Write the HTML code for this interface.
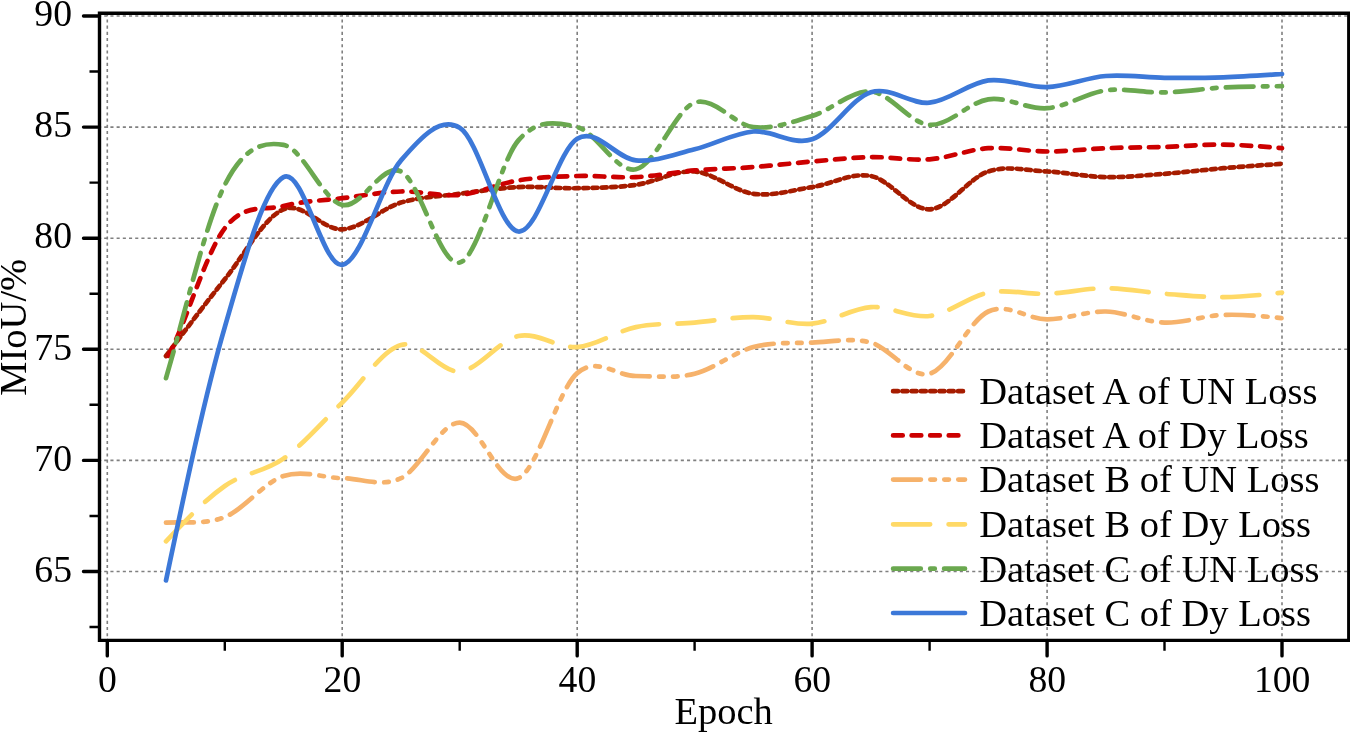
<!DOCTYPE html><html><head><meta charset="utf-8"><title>MIoU</title><style>html,body{margin:0;padding:0;background:#fff;overflow:hidden}svg{display:block}text{font-family:"Liberation Serif",serif;fill:#000}</style></head><body>
<svg width="1350" height="732" viewBox="0 0 1350 732">
<rect width="1350" height="732" fill="#fff"/>
<path d="M107.3 13.2 V640.4M342.2 13.2 V640.4M577.2 13.2 V640.4M812.1 13.2 V640.4M1047.1 13.2 V640.4M1282.0 13.2 V640.4M98.0 571.5 H1348.8M98.0 460.4 H1348.8M98.0 349.3 H1348.8M98.0 238.2 H1348.8M98.0 127.1 H1348.8M98.0 16.0 H1348.8" stroke="#808080" stroke-width="1.6" stroke-dasharray="3.1 3.1" fill="none"/>
<g fill="none" stroke-linejoin="round">
<path d="M166.0 356.0C185.6 329.9 205.2 303.7 224.8 279.3C244.3 254.9 263.9 217.6 283.5 209.3C303.1 201.0 322.7 230.4 342.2 229.3C361.8 228.2 381.4 208.6 401.0 202.6C420.6 196.7 440.1 196.4 459.7 193.8C479.3 191.2 498.9 188.0 518.4 187.1C538.0 186.2 557.6 188.6 577.2 188.2C596.8 187.8 616.3 187.6 635.9 184.9C655.5 182.1 675.1 170.1 694.6 171.5C714.2 173.0 733.8 191.2 753.4 193.8C773.0 196.4 792.5 190.1 812.1 187.1C831.7 184.1 851.3 172.3 870.9 176.0C890.4 179.7 910.0 210.1 929.6 209.3C949.2 208.6 968.7 177.8 988.3 171.5C1007.9 165.2 1027.5 170.6 1047.1 171.5C1066.6 172.5 1086.2 176.7 1105.8 177.1C1125.4 177.5 1145.0 175.2 1164.5 173.8C1184.1 172.3 1203.7 169.9 1223.3 168.2C1242.8 166.5 1262.4 165.2 1282.0 163.8" stroke="#A61C00" stroke-width="4.7" stroke-linecap="round" stroke-dasharray="4.9 4.38" stroke-dashoffset="0.0"/>
<path d="M166.0 360.4C185.6 325.2 205.2 253.9 224.8 228.2C244.3 202.5 263.9 211.0 283.5 206.0C303.1 201.0 322.7 200.6 342.2 198.2C361.8 195.8 381.4 192.1 401.0 191.5C420.6 191.0 440.1 196.7 459.7 194.9C479.3 193.0 498.9 183.6 518.4 180.4C538.0 177.3 557.6 176.5 577.2 176.0C596.8 175.4 616.3 178.0 635.9 177.1C655.5 176.2 675.1 172.1 694.6 170.4C714.2 168.8 733.8 168.6 753.4 167.1C773.0 165.6 792.5 163.2 812.1 161.5C831.7 159.9 851.3 157.5 870.9 157.1C890.4 156.7 910.0 160.8 929.6 159.3C949.2 157.8 968.7 149.5 988.3 148.2C1007.9 146.9 1027.5 151.5 1047.1 151.5C1066.6 151.5 1086.2 149.0 1105.8 148.2C1125.4 147.4 1145.0 147.5 1164.5 146.9C1184.1 146.3 1203.7 144.4 1223.3 144.7C1242.8 144.9 1262.4 146.5 1282.0 148.2" stroke="#CC0000" stroke-width="4.7" stroke-linecap="round" stroke-dasharray="9.6 8.95" stroke-dashoffset="-5.3"/>
<path d="M166.0 522.6C185.6 521.5 205.2 524.8 224.8 517.1C244.3 509.3 263.9 482.4 283.5 476.0C303.1 469.5 322.7 477.8 342.2 478.2C361.8 478.5 381.4 487.4 401.0 478.2C420.6 468.9 440.1 422.6 459.7 422.6C479.3 422.6 498.9 486.4 518.4 478.2C538.0 469.9 557.6 390.1 577.2 373.1C596.8 356.0 616.3 375.9 635.9 376.0C655.5 376.1 675.1 378.6 694.6 373.7C714.2 368.9 733.8 352.3 753.4 347.1C773.0 341.9 792.5 343.4 812.1 342.6C831.7 341.9 851.3 337.4 870.9 342.6C890.4 347.8 910.0 378.9 929.6 373.7C949.2 368.6 968.7 320.6 988.3 311.5C1007.9 302.5 1027.5 319.3 1047.1 319.3C1066.6 319.3 1086.2 311.0 1105.8 311.5C1125.4 312.1 1145.0 322.1 1164.5 322.6C1184.1 323.2 1203.7 315.6 1223.3 314.9C1242.8 314.1 1262.4 316.2 1282.0 318.2" stroke="#F6B26B" stroke-width="4.7" stroke-linecap="round" stroke-dasharray="27.8 9.45 4.6 9.35 4.6 9.4" stroke-dashoffset="0.0"/>
<path d="M166.0 541.3C185.6 520.5 205.2 499.7 224.8 486.0C244.3 472.2 263.9 472.5 283.5 458.6C303.1 444.7 322.7 421.6 342.2 402.6C361.8 383.7 381.4 350.0 401.0 344.9C420.6 339.7 440.1 373.0 459.7 371.5C479.3 370.0 498.9 340.0 518.4 336.0C538.0 331.9 557.6 348.6 577.2 347.1C596.8 345.6 616.3 331.2 635.9 327.1C655.5 323.0 675.1 324.3 694.6 322.6C714.2 321.0 733.8 316.9 753.4 317.1C773.0 317.3 792.5 325.4 812.1 323.7C831.7 322.1 851.3 308.4 870.9 307.1C890.4 305.8 910.0 318.4 929.6 316.0C949.2 313.6 968.7 296.3 988.3 292.6C1007.9 288.9 1027.5 294.5 1047.1 293.8C1066.6 293.0 1086.2 288.2 1105.8 288.2C1125.4 288.2 1145.0 292.3 1164.5 293.8C1184.1 295.2 1203.7 297.3 1223.3 297.1C1242.8 296.9 1262.4 294.8 1282.0 292.6" stroke="#FFD966" stroke-width="4.7" stroke-linecap="round" stroke-dasharray="37.05 18.43" stroke-dashoffset="0.0"/>
<path d="M166.0 378.2C185.6 311.5 205.2 223.8 224.8 184.9C244.3 146.0 263.9 141.5 283.5 144.9C303.1 148.2 322.7 200.4 342.2 204.9C361.8 209.3 381.4 161.9 401.0 171.5C420.6 181.2 440.1 267.8 459.7 262.6C479.3 257.5 498.9 163.0 518.4 140.4C538.0 117.8 557.6 122.3 577.2 127.1C596.8 131.9 616.3 173.4 635.9 169.3C655.5 165.2 675.1 109.7 694.6 102.7C714.2 95.6 733.8 124.9 753.4 127.1C773.0 129.3 792.5 121.9 812.1 116.0C831.7 110.1 851.3 90.1 870.9 91.5C890.4 93.0 910.0 123.6 929.6 124.9C949.2 126.2 968.7 102.1 988.3 99.3C1007.9 96.5 1027.5 109.7 1047.1 108.2C1066.6 106.7 1086.2 93.1 1105.8 90.4C1125.4 87.8 1145.0 92.9 1164.5 92.4C1184.1 92.0 1203.7 88.6 1223.3 87.5C1242.8 86.5 1262.4 86.4 1282.0 86.2" stroke="#6AA84F" stroke-width="4.7" stroke-linecap="round" stroke-dasharray="27.7 9.4 4.6 9.3" stroke-dashoffset="0.0"/>
<path d="M166.0 580.4C185.6 487.3 205.2 394.3 224.8 327.1C244.3 259.9 263.9 187.5 283.5 177.1C303.1 166.7 322.7 267.6 342.2 264.9C361.8 262.1 381.4 183.3 401.0 160.4C420.6 137.6 440.1 115.9 459.7 127.8C479.3 139.6 498.9 229.7 518.4 231.5C538.0 233.3 557.6 150.5 577.2 138.7C596.8 126.8 616.3 158.7 635.9 160.4C655.5 162.2 675.1 154.1 694.6 149.3C714.2 144.5 733.8 133.2 753.4 131.5C773.0 129.9 792.5 145.9 812.1 139.3C831.7 132.8 851.3 98.3 870.9 92.2C890.4 86.1 910.0 104.6 929.6 102.7C949.2 100.7 968.7 83.0 988.3 80.4C1007.9 77.8 1027.5 87.8 1047.1 87.1C1066.6 86.4 1086.2 77.5 1105.8 76.0C1125.4 74.4 1145.0 77.5 1164.5 77.8C1184.1 78.0 1203.7 78.0 1223.3 77.3C1242.8 76.7 1262.4 75.3 1282.0 74.0" stroke="#3C78D8" stroke-width="4.7" stroke-linecap="round"/>
</g>
<path d="M99.5 13.2 H1348.8 V640.4 H99.5 Z" fill="none" stroke="#000" stroke-width="3.4" stroke-linejoin="miter"/>
<path d="M107.3 640.4 V655.9M342.2 640.4 V655.9M577.2 640.4 V655.9M812.1 640.4 V655.9M1047.1 640.4 V655.9M1282.0 640.4 V655.9M99.5 571.5 H83.5M99.5 460.4 H83.5M99.5 349.3 H83.5M99.5 238.2 H83.5M99.5 127.1 H83.5M99.5 16.0 H83.5" stroke="#000" stroke-width="3.4" stroke-linecap="round" fill="none"/>
<path d="M224.8 640.4 V650.7M459.7 640.4 V650.7M694.6 640.4 V650.7M929.6 640.4 V650.7M1164.5 640.4 V650.7M99.5 627.0 H89.5M99.5 516.0 H89.5M99.5 404.8 H89.5M99.5 293.8 H89.5M99.5 182.6 H89.5M99.5 71.5 H89.5" stroke="#000" stroke-width="2.4" stroke-linecap="butt" fill="none"/>
<g font-size="37.7">
<text x="107.5" y="692.2" text-anchor="middle">0</text>
<text x="342.4" y="692.2" text-anchor="middle">20</text>
<text x="577.4" y="692.2" text-anchor="middle">40</text>
<text x="812.3" y="692.2" text-anchor="middle">60</text>
<text x="1047.3" y="692.2" text-anchor="middle">80</text>
<text x="1282.2" y="692.2" text-anchor="middle">100</text>
<text x="72.0" y="581.7" text-anchor="end">65</text>
<text x="72.0" y="470.6" text-anchor="end">70</text>
<text x="72.0" y="359.5" text-anchor="end">75</text>
<text x="72.0" y="248.4" text-anchor="end">80</text>
<text x="72.0" y="137.3" text-anchor="end">85</text>
<text x="72.0" y="26.2" text-anchor="end">90</text>
<text transform="translate(723.6 723.9) scale(1.022 1)" text-anchor="middle">Epoch</text>
<text transform="translate(25.9 327.3) rotate(-90) scale(1.022 1)" text-anchor="middle">MIoU/%</text>
<text transform="translate(979.3 403.9) scale(1.022 1)">Dataset A of UN Loss</text>
<text transform="translate(979.3 448.1) scale(1.022 1)">Dataset A of Dy Loss</text>
<text transform="translate(979.3 492.4) scale(1.022 1)">Dataset B of UN Loss</text>
<text transform="translate(979.3 537.0) scale(1.022 1)">Dataset B of Dy Loss</text>
<text transform="translate(979.3 581.5) scale(1.022 1)">Dataset C of UN Loss</text>
<text transform="translate(979.3 625.8) scale(1.022 1)">Dataset C of Dy Loss</text>
</g>
<g fill="none">
<path d="M893.1 391.2 H965" stroke="#A61C00" stroke-width="4.7" stroke-linecap="round" stroke-dasharray="4.9 4.38"/>
<path d="M893.1 435.4 H965" stroke="#CC0000" stroke-width="4.7" stroke-linecap="round" stroke-dasharray="9.6 8.95"/>
<path d="M893.1 479.6 H965" stroke="#F6B26B" stroke-width="4.7" stroke-linecap="round" stroke-dasharray="27.8 9.45 4.6 9.35 4.6 9.4"/>
<path d="M893.1 524.3 H965" stroke="#FFD966" stroke-width="4.7" stroke-linecap="round" stroke-dasharray="37.05 18.43"/>
<path d="M893.1 568.7 H965" stroke="#6AA84F" stroke-width="4.7" stroke-linecap="round" stroke-dasharray="27.7 9.4 4.6 9.3"/>
<path d="M893.1 613.0 H965" stroke="#3C78D8" stroke-width="4.7" stroke-linecap="round"/>
</g>
</svg></body></html>
